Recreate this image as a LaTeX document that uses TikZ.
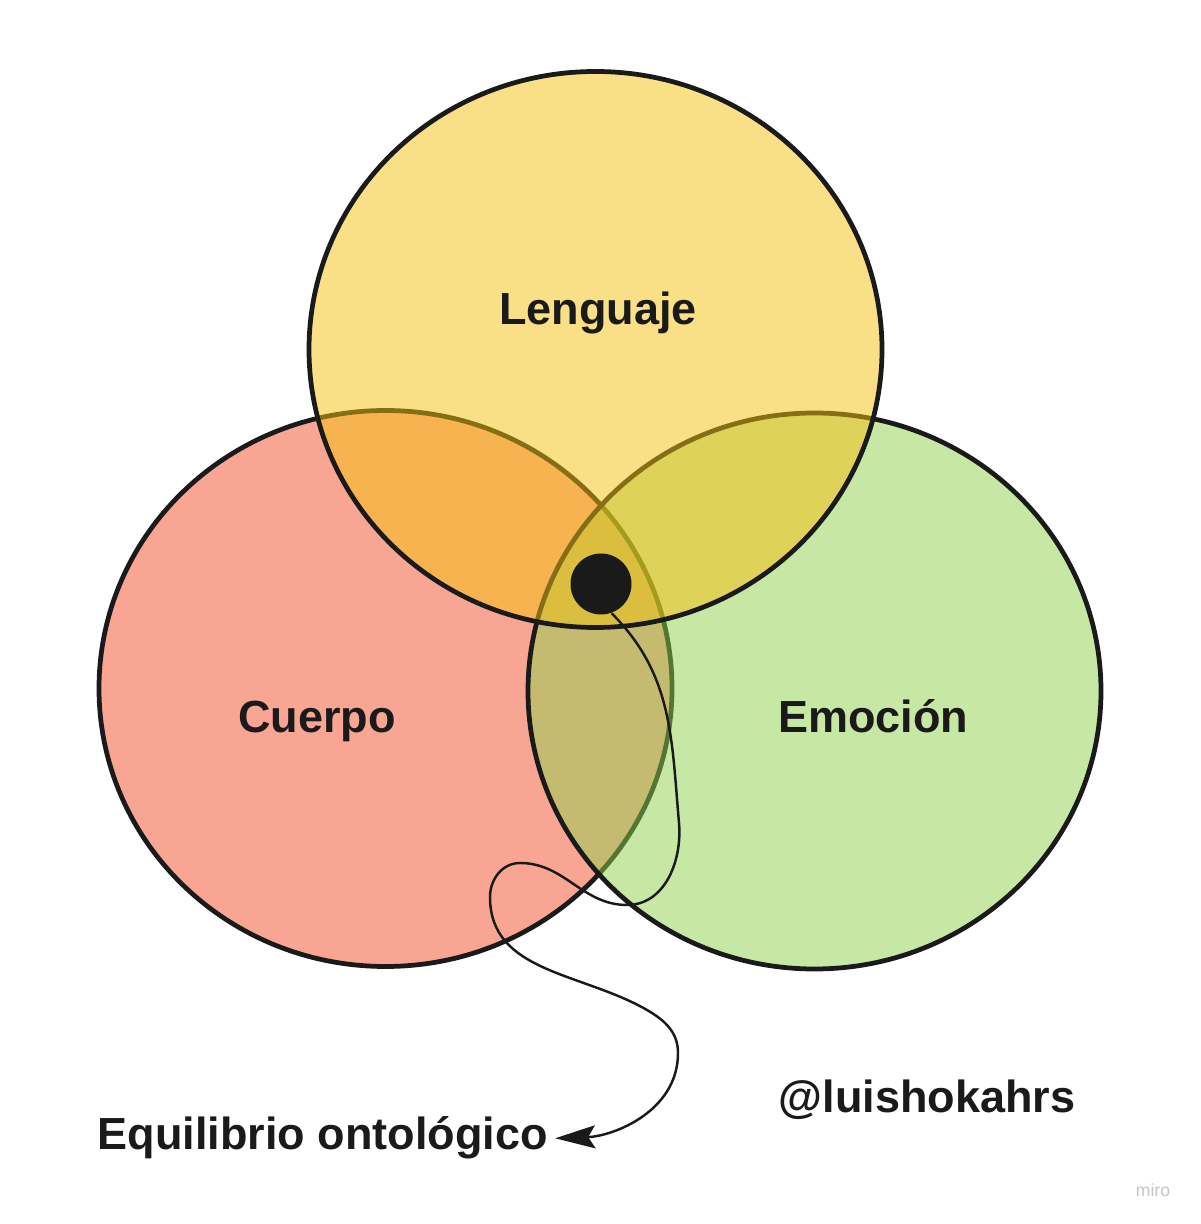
\documentclass[tikz,border=0pt]{standalone}
\usepackage{fontspec}
\setmainfont{Liberation Sans}
\usepackage{tikz}
\usetikzlibrary{positioning,arrows.meta}

\definecolor{cuerpored}{RGB}{248,165,148}
\definecolor{emociongreen}{RGB}{145,209,77}
\definecolor{lenguajeyellow}{RGB}{245,193,13}
\definecolor{inkblack}{RGB}{26,26,26}

\begin{document}
\begin{tikzpicture}[
    area/.style={line width=1.35pt, draw=inkblack},
    areatext/.style={font=\fontsize{12.8}{15}\selectfont\bfseries, text=inkblack, inner sep=0pt, anchor=base},
    thread/.style={line width=0.7pt, draw=inkblack, -{Stealth[length=4mm, width=2.3mm, inset=0.7mm]}}
]
    % Page
    \useasboundingbox (0,0) rectangle (12,12.24);
    \fill[white] (0,0) rectangle (12,12.24);

    % Circles
    \draw[area, fill=cuerpored] (3.855,5.355) ellipse [x radius=2.865, y radius=2.78];
    \draw[area, fill=emociongreen, fill opacity=0.5] (8.145,5.33) ellipse [x radius=2.865, y radius=2.78];
    \draw[area, fill=lenguajeyellow, fill opacity=0.5] (5.955,8.745) ellipse [x radius=2.865, y radius=2.78];

    % Circle labels
    \node[areatext] (lenguaje) at (5.98,8.99) {Lenguaje};
    \node[areatext] (cuerpo) at (3.17,4.91) {Cuerpo};
    \node[areatext] (emocion) at (8.73,4.91) {Emoción};

    % Centre point
    \node[circle, fill=inkblack, inner sep=0pt, minimum size=0.61cm] (centre) at (6.01,6.40) {};

    % Bottom texts
    \node[areatext, anchor=base west] (equilibrio) at (0.97,0.74) {Equilibrio ontológico};
    \node[areatext, anchor=base west] (handle) at (7.78,1.11) {@luishokahrs};
    \node[font=\fontsize{5}{6}\selectfont, text=gray!45, anchor=base, inner sep=0pt] (miro) at (11.53,0.27) {miro};

    % Thread to the label
    \draw[thread] (centre.-70) to[out=-45, in=95] (6.79,4.01)
        to[out=-85, in=0] (6.27,3.19)
        to[out=180, in=0] (5.20,3.61)
        to[out=180, in=90] (4.90,3.27)
        to[out=-90, in=150] (6.47,2.14)
        to[out=-30, in=90] (6.78,1.71)
        to[out=-90, in=2] ([xshift=0.07cm]equilibrio.east);

\end{tikzpicture}
\end{document}
